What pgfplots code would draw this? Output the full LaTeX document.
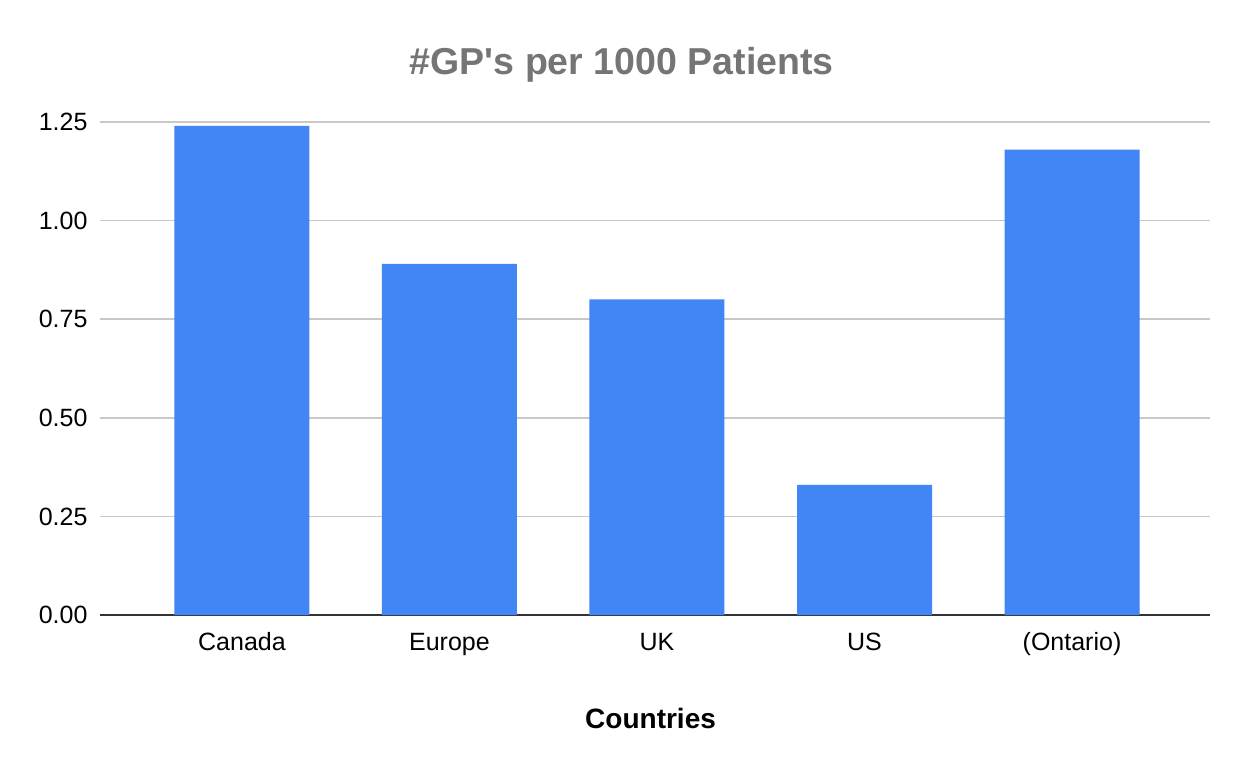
\documentclass[border=0pt]{standalone}
\usepackage{pgfplots}
\pgfplotsset{compat=1.18}
\usepackage{fontspec}
\setmainfont{Liberation Sans}
\definecolor{barblue}{HTML}{4285F4}
\definecolor{titlegray}{HTML}{757575}
\definecolor{gridgray}{HTML}{C8C8C8}
\begin{document}
\begin{tikzpicture}
\fill[white] (-100bp,-158bp) rectangle (1150bp,615bp);
\begin{axis}[
  scale only axis,
  width=1110bp, height=493bp,
  at={(0,0)}, anchor=south west,
  xmin=-0.684, xmax=4.665,
  ymin=0, ymax=1.25,
  ybar, bar width=135bp, bar shift=0pt,
  xtick={0,1,2,3,4},
  xticklabels={Canada,Europe,UK,US,(Ontario)},
  ytick={0,0.25,0.5,0.75,1,1.25},
  yticklabel style={/pgf/number format/fixed,/pgf/number format/fixed zerofill,/pgf/number format/precision=2, anchor=east, xshift=-9bp},
  /pgf/number format/assume math mode=true,
  ticklabel style={font=\fontsize{25bp}{29bp}\selectfont},
  major tick length=0pt,
  ymajorgrids, grid style={gridgray, line width=1.5bp},
  axis x line*=bottom, axis y line*=left,
  y axis line style={draw=none},
  x axis line style={draw=black!80, line width=1.5bp, -},
  xtick style={draw=none}, ytick style={draw=none},
  xticklabel style={anchor=base, yshift=-35bp},
  title={\#GP\textquotesingle s per 1000 Patients},
  title style={font=\bfseries\fontsize{37.5bp}{42bp}\selectfont, text=titlegray, at={(axis description cs:0.47,1.104)}, anchor=center},
  xlabel={Countries},
  xlabel style={font=\bfseries\fontsize{28bp}{32bp}\selectfont, at={(axis description cs:0.496,-0.209)}, anchor=center},
  clip=false,
]
\addplot[fill=barblue, draw=none] coordinates {(0,1.24) (1,0.89) (2,0.80) (3,0.33) (4,1.18)};
\end{axis}
\end{tikzpicture}
\end{document}
